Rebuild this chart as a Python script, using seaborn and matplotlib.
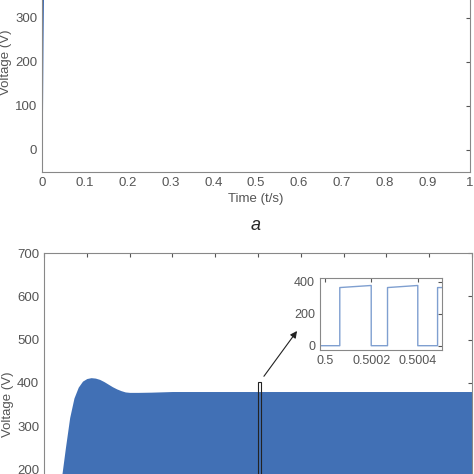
import matplotlib
matplotlib.use("Agg")
import matplotlib.pyplot as plt
import seaborn as sns

sns.set_style("white")
plt.rcParams['font.family'] = ['Liberation Sans', 'DejaVu Sans']

# top trace (a)
t_top = [0, 0.001, 0.002, 0.003, 0.004, 0.006, 0.01, 0.05, 0.2, 0.5, 1.0]
v_top = [0, 120, 250, 340, 400, 430, 420, 390, 380, 380, 380]
# bottom envelope (b)
t_env = [0, 0.02, 0.03, 0.04, 0.05, 0.06, 0.07, 0.08, 0.09, 0.1, 0.11, 0.12, 0.13, 0.14,
         0.15, 0.16, 0.17, 0.18, 0.19, 0.2, 0.22, 0.25, 0.3, 0.5, 1.0]
v_env = [0, 60, 110, 175, 250, 320, 365, 390, 404, 410, 412, 411, 408, 403,
         397, 391, 386, 382, 379, 378, 378, 378.5, 380, 380, 380]
# inset square wave
t_in = [0.49998, 0.500065, 0.500065, 0.5002, 0.5002, 0.50027, 0.50027, 0.5004, 0.5004,
        0.500485, 0.500485, 0.500504]
v_in = [0, 0, 365, 378, 0, 0, 365, 378, 0, 0, 365, 365]

grey = "#555555"
fig = plt.figure(figsize=(4.74, 4.74), dpi=100)
W, H = 474, 474
def ax_at(x0, y0, x1, y1):
    return fig.add_axes([x0 / W, 1 - y1 / H, (x1 - x0) / W, (y1 - y0) / H])

def style(ax):
    for s in ax.spines.values():
        s.set_color("#888888"); s.set_linewidth(0.8)
    ax.tick_params(colors=grey, labelsize=9.5, direction="in", length=3, top=True, right=True)

# top axes
ax1 = ax_at(42, -48, 470, 172)
sns.lineplot(x=t_top, y=v_top, ax=ax1, color="#3d6bb5", linewidth=1)
ax1.set_xlim(0, 1); ax1.set_ylim(-50, 450)
ax1.set_xticks([i / 10 for i in range(11)])
ax1.set_xticklabels(["0"] + [f"0.{i}" for i in range(1, 10)] + ["1"])
ax1.set_yticks([0, 100, 200, 300, 400])
ax1.set_xlabel("Time (t/s)", color=grey, fontsize=9.5, labelpad=3)
ax1.set_ylabel("Voltage (V)", color=grey, fontsize=9.5, labelpad=2)
style(ax1)
fig.text(256 / W, 1 - 226 / H, "a", fontsize=13, style="italic", ha="center", va="center")

# bottom axes
ax2 = ax_at(44, 253, 472, 556)
ax2.fill_between(t_env, 0, v_env, color="#4170b5", linewidth=0)
ax2.set_xlim(0, 1); ax2.set_ylim(0, 700)
ax2.set_xticks([i / 10 for i in range(11)])
ax2.set_xticklabels([])
ax2.set_yticks(range(200, 701, 100))
ax2.set_ylabel("Voltage (V)", color=grey, fontsize=9.5, labelpad=2)
style(ax2)
ax2.add_patch(plt.Rectangle((0.4995, 0), 0.008, 402, fill=False, edgecolor="#222222", linewidth=0.8))
ax2.annotate("", xy=(0.595, 525), xytext=(0.51, 410),
             arrowprops=dict(arrowstyle="-|>", color="#222222", lw=0.8))

# inset
ax3 = ax_at(320, 278, 442, 350)
ax3.set_facecolor("white")
sns.lineplot(x=t_in, y=v_in, ax=ax3, color="#7f9fd0", linewidth=1, sort=False, estimator=None)
ax3.set_xlim(0.49998, 0.500504); ax3.set_ylim(-27, 425)
ax3.set_xticks([0.5, 0.5002, 0.5004]); ax3.set_xticklabels(["0.5", "0.5002", "0.5004"])
ax3.set_yticks([0, 200, 400])
style(ax3)
ax3.tick_params(labelsize=9)

fig.savefig("out.png", dpi=100)
